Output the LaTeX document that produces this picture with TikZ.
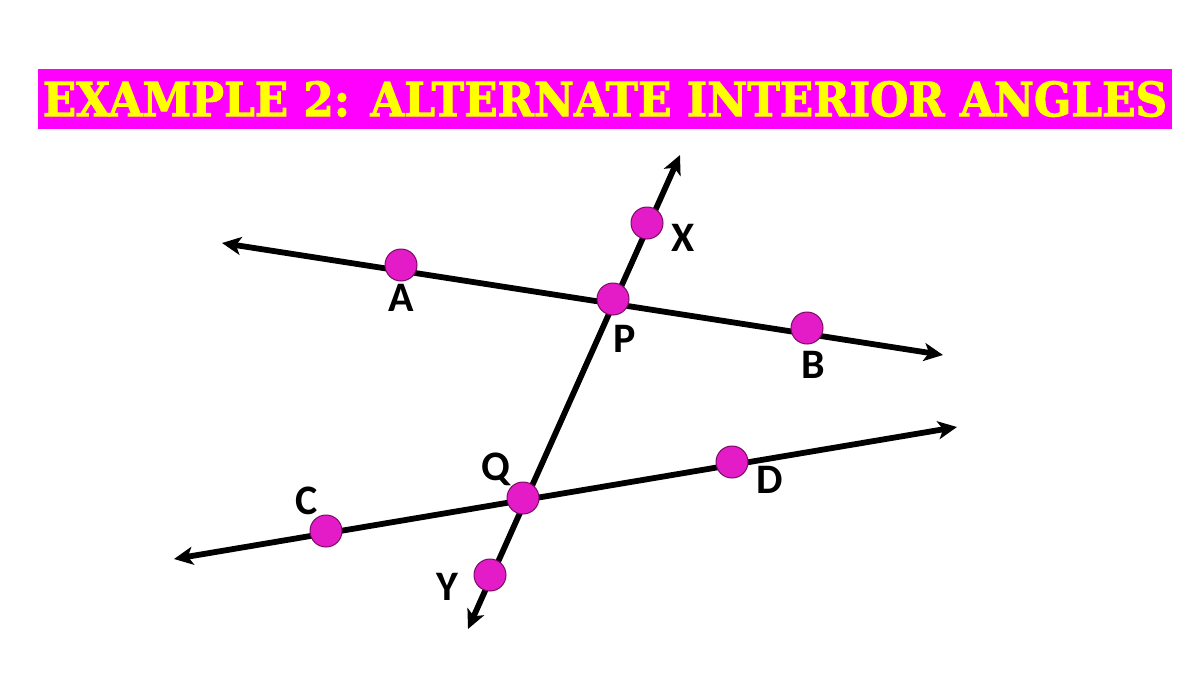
\documentclass[tikz,border=0pt]{standalone}
\usepackage{fontspec}
\setmainfont{Carlito}
\newfontfamily\titlefont{DejaVu Serif Bold}[FakeBold=2.2]
\usetikzlibrary{arrows.meta}
\definecolor{titlebg}{RGB}{255,0,255}
\definecolor{titlefg}{RGB}{255,255,0}
\definecolor{dotfill}{RGB}{228,28,200}
\definecolor{dotedge}{RGB}{120,10,100}
\tikzset{
  ray/.style={line width=5.8pt, {Stealth[length=19pt,width=18pt,inset=5pt]}-{Stealth[length=19pt,width=18pt,inset=5pt]}},
  dot/.style={circle, fill=dotfill, draw=dotedge, line width=1pt, minimum size=32pt, inner sep=0pt},
  lbl/.style={font=\bfseries\fontsize{42}{42}\selectfont, text=black, inner sep=0pt},
}
\begin{document}
\begin{tikzpicture}[x=1pt,y=-1pt]
\useasboundingbox (0,0) rectangle (1200,675);
\fill[white] (0,0) rectangle (1200,675);
% title
\node[fill=titlebg, minimum width=1134pt, minimum height=60pt, inner sep=0pt, anchor=center] (title) at (605,98.5) {};
\node[text=titlefg, inner sep=0pt, anchor=center] (titletext) at (605,99) {\resizebox{1124pt}{35pt}{\titlefont EXAMPLE 2: ALTERNATE INTERIOR ANGLES}};
% line ends
\coordinate (ABl) at (222,243);
\coordinate (ABr) at (943,355);
\coordinate (CDl) at (174,559);
\coordinate (CDr) at (957,427);
\coordinate (XYt) at (680,155);
\coordinate (XYb) at (468,629);
\draw[ray] (ABl) -- (ABr);
\draw[ray] (CDl) -- (CDr);
\draw[ray] (XYb) -- (XYt);
% points
\node[dot] (A) at (401,265) {};
\node[dot] (P) at (613,299) {};
\node[dot] (B) at (807,328) {};
\node[dot] (X) at (647,223) {};
\node[dot] (Q) at (523,498) {};
\node[dot] (Y) at (490,575) {};
\node[dot] (C) at (326,531) {};
\node[dot] (D) at (732,462) {};
% labels
\node[lbl] (lA) at (401,298) {A};
\node[lbl] (lP) at (625,339) {P};
\node[lbl] (lB) at (813,365) {B};
\node[lbl] (lX) at (683,238) {X};
\node[lbl] (lQ) at (496,469) {Q};
\node[lbl] (lC) at (307,501) {C};
\node[lbl] (lD) at (770,480) {D};
\node[lbl] (lY) at (447,587) {Y};
\end{tikzpicture}
\end{document}
